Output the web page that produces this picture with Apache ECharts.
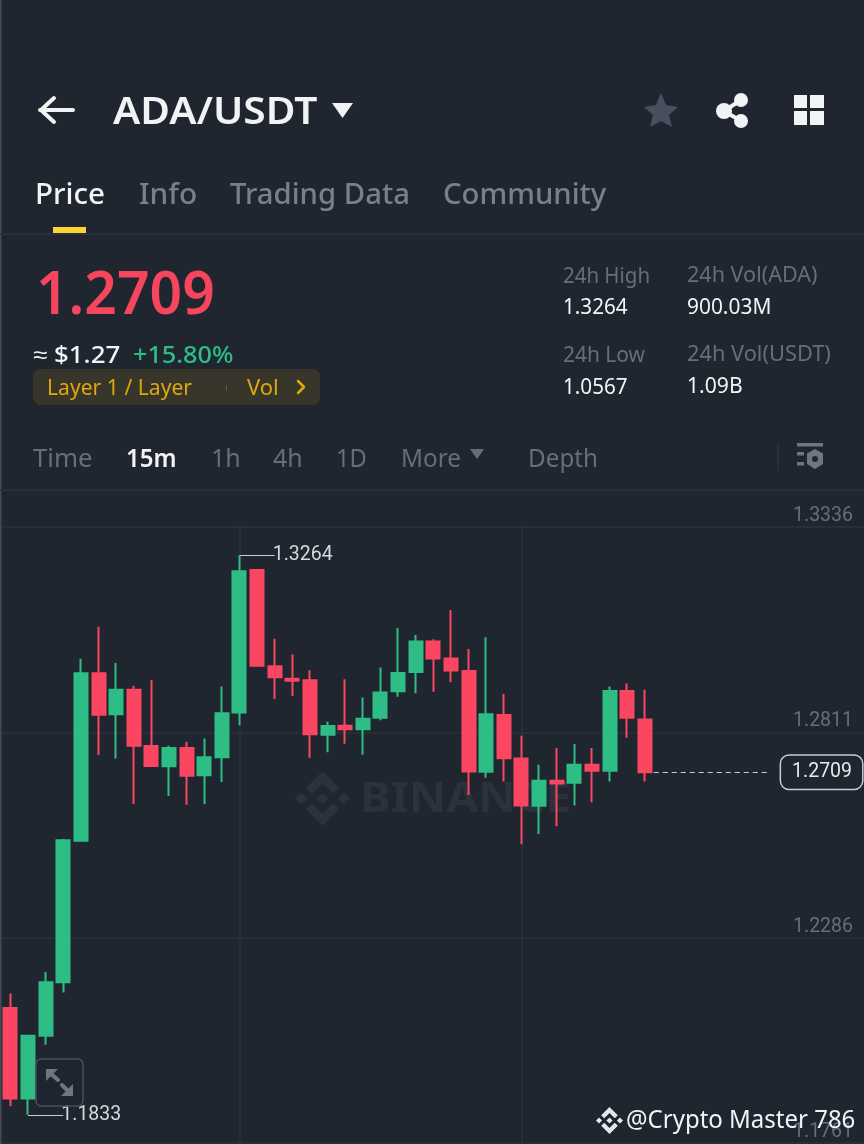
<!DOCTYPE html>
<html><head><meta charset="utf-8">
<style>html,body{margin:0;padding:0;background:#1F2630}#c{width:864px;height:1144px}</style>
<script src="https://cdn.jsdelivr.net/npm/echarts@6/dist/echarts.min.js"></script>
</head><body><div id="c"></div>
<script>
const categories = ['c00','c01','c02','c03','c04','c05','c06','c07','c08','c09','c10','c11','c12','c13','c14','c15','c16','c17','c18','c19','c20','c21','c22','c23','c24','c25','c26','c27','c28','c29','c30','c31','c32','c33','c34','c35','c36','c37','c38','c39','c40','c41','c42','c43','c44','c45','c46','c47','c48','c49'];
const opens  = [1.2024,1.2106,1.1875,1.2035,1.2172,1.2534,1.2962,1.2857,1.2920,1.2776,1.2724,1.2771,1.2701,1.2747,1.2862,1.3226,1.2980,1.2948,1.2944,1.2805,1.2828,1.2819,1.2848,1.2916,1.2965,1.3043,1.3000,1.2968,1.2710,1.2855,1.2744,1.2623,1.2687,1.2682,1.2728,1.2713,1.2917,1.2844];
const closes = [1.2107,1.1875,1.2035,1.2172,1.2535,1.2962,1.2856,1.2920,1.2777,1.2725,1.2771,1.2700,1.2747,1.2860,1.3223,1.2981,1.2952,1.2943,1.2806,1.2827,1.2819,1.2846,1.2913,1.2963,1.3043,1.3000,1.2969,1.2711,1.2857,1.2745,1.2624,1.2687,1.2680,1.2728,1.2713,1.2917,1.2848,1.2709];
const lows   = [1.1990,1.1855,1.1833,1.2012,1.2146,1.2532,1.2753,1.2744,1.2628,1.2724,1.2648,1.2626,1.2628,1.2684,1.2829,1.2978,1.2896,1.2904,1.2746,1.2760,1.2782,1.2754,1.2842,1.2902,1.2911,1.2915,1.2939,1.2651,1.2695,1.2685,1.2525,1.2551,1.2571,1.2624,1.2632,1.2685,1.2797,1.2685];
const highs  = [1.2125,1.2143,1.2037,1.2198,1.2538,1.2999,1.3081,1.2988,1.2930,1.2945,1.2777,1.2787,1.2795,1.2928,1.3264,1.3226,1.3050,1.3010,1.2970,1.2838,1.2947,1.2900,1.2977,1.3078,1.3060,1.3049,1.3124,1.3024,1.3054,1.2909,1.2802,1.2728,1.2771,1.2781,1.2771,1.2928,1.2936,1.2920];
const yTicks = {min:1.1761,max:1.3336,step:0.0525};
const highPoint = 1.3264, lowPoint = 1.1833, lastPrice = 1.2709;
const candles = opens.map((o,i)=>[o,closes[i],lows[i],highs[i]]);

const BG='#1F2630', LINE='#2B323D', GREY='#78808D', DIM='#666E7B', WHITE='#F2F3F5', UP='#2EBD85', DOWN='#FB4661', GOLD='#E0A80F';
const LOGO=[
 [[38.73,53.2],[63.3,28.64],[87.88,53.22],[102.18,38.92],[63.3,0],[24.43,38.88]],
 [[0,63.31],[14.3,49.01],[28.6,63.31],[14.3,77.61]],
 [[38.73,73.42],[63.3,97.99],[87.88,73.42],[102.18,87.71],[63.3,126.61],[24.42,87.73]],
 [[97.99,63.31],[112.29,49.01],[126.61,63.31],[112.31,77.61]],
 [[63.3,48.75],[77.83,63.3],[63.3,77.83],[48.76,63.29]]];
const logo=(x,y,size,fill,z)=>LOGO.map(pts=>({type:'polygon',z,shape:{points:pts.map(p=>[x+p[0]*size/126.61,y+p[1]*size/126.61])},style:{fill}}));
const FONT='"Noto Sans", sans-serif';
const T=(text,x,y,size,fill,weight,z,sx)=>({type:'text',x,y:y+2,z:z||10,scaleX:sx||1,style:{text,x:0,y:0,fill,font:`${weight||400} ${size}px ${FONT}`,textVerticalAlign:'middle',textBaseline:'middle'}});
const R=(x,y,w,h,fill,r,z)=>({type:'rect',z:z||10,shape:{x,y,width:w,height:h,r:r||0},style:{fill}});
const L=(pts,stroke,lw,z)=>({type:'polyline',z:z||10,shape:{points:pts},style:{stroke,fill:'none',lineWidth:lw,lineCap:'round',lineJoin:'round'}});
const C=(cx,cy,r,fill)=>({type:'circle',z:10,shape:{cx,cy,r},style:{fill}});

const chrome=[
 R(0,0,1.5,1144,'#454B56'),
 // header
 L([[40,110],[73,110]],WHITE,4), L([[54,98],[41,110],[54,122]],WHITE,4),
 T('ADA/USDT',113,111,37,WHITE,600,10,1.1),
 {type:'polygon',z:10,shape:{points:[[332,103],[353,103],[342.5,118]]},style:{fill:WHITE,lineJoin:'round'}},
 {type:'polygon',z:10,shape:{points:[[661,93],[666,105],[678,107],[669,115],[672,127],[661,121],[650,127],[653,115],[644,107],[656,105]]},style:{fill:'#47505E'}},
 L([[741,100],[724,111],[741,121]],WHITE,4), C(741,100,7,WHITE), C(724,111,8,WHITE), C(741,121,7,WHITE),
 R(794,95,13,13,WHITE,0), R(810,95,14,13,WHITE,0), R(794,111,13,14,WHITE,0), R(810,111,14,14,WHITE,0),
 // tabs
 T('Price',35,194,29,WHITE,500,10,1.02), T('Info',139,194,29,GREY,500,10,1.03), T('Trading Data',230,194,29,GREY,500,10,1.01), T('Community',443,194,29,GREY,500,10,1.01),
 R(53,227,33,6,'#FCD535'), R(0,233.5,864,1.5,LINE),
 // price block
 T('1.2709',36,295,60,'#F6465D',600,10,0.95),
 T('≈ $1.27',33,354,24,WHITE,500,10,1.08), T('+15.80%',133,354,24,UP,500,10,1.05),
 R(33,369,287,36,'#38352A',8), T('Layer 1 / Layer',47,387,22,GOLD,400,10,0.96), R(226,385,1,6,'#6B5A1E'), T('Vol',247,387,22,GOLD),
 L([[298,381],[304,387],[298,393]],GOLD,2.5),
 T('24h High',563,275,22,DIM,400,10,0.93), T('24h Vol(ADA)',687,274,22,DIM,400,10,0.98), T('1.3264',563,306,22,WHITE,400,10,0.94), T('900.03M',687,306,22,WHITE,400,10,0.95),
 T('24h Low',563,354,22,DIM,400,10,0.95), T('24h Vol(USDT)',687,353,22,DIM,400,10,0.99), T('1.0567',563,386,22,WHITE,400,10,0.94), T('1.09B',687,385,22,WHITE,400,10,0.96),
 // toolbar
 T('Time',33,458,25,DIM,400,10,1.03), T('15m',126,458,25,WHITE,600,10,0.96), T('1h',211,458,25,DIM), T('4h',273,458,25,DIM), T('1D',336,458,25,DIM,400,10,0.95), T('More',401,458,25,DIM,400,10,0.97),
 {type:'polygon',z:10,shape:{points:[[470,449],[484,449],[477,459]]},style:{fill:DIM}},
 T('Depth',528,458,25,DIM,400,10,0.97),
 R(777.5,443,1.5,27,LINE), R(797,443,26,3.5,'#6E7683'), R(797,452,7,3.5,'#6E7683'), R(797,462,7,3.5,'#6E7683'),
 {type:'polygon',z:10,shape:{points:[[815,449],[823,453.5],[823,464],[815,469],[807,464],[807,453.5]]},style:{fill:'#6E7683'}}, C(815,459,3,BG),
 R(0,489.5,864,1.5,LINE),
 // watermark behind the candles
 ...logo(295,771,55,'#2C313C',1),
 {type:'text',z:1,x:360,y:800,scaleX:1.1,style:{text:'BINANCE',x:0,y:0,fill:'#2C313C',font:`700 42px ${FONT}`,textVerticalAlign:'middle',textBaseline:'middle'}},
 // expand button
 {type:'rect',z:10,shape:{x:36,y:1059,width:47,height:47,r:5},style:{fill:'#1F2630',opacity:0.35}},
 {type:'rect',z:10,shape:{x:36,y:1059,width:47,height:47,r:5},style:{fill:'none',stroke:'#4A505C',lineWidth:1.5}},
 {type:'polygon',z:11,shape:{points:[[46,1069],[58,1069],[46,1081]]},style:{fill:'#6E7683'}},
 L([[50,1073],[58,1080]],'#6E7683',4,11),
 {type:'polygon',z:11,shape:{points:[[73,1096],[61,1096],[73,1084]]},style:{fill:'#6E7683'}},
 L([[69,1092],[62,1085]],'#6E7683',4,11),
 // credit
 ...logo(596,1107,27,'#E6E8EB',12),
 T('@Crypto Master 786',626,1119,25,WHITE,400,12,0.96),
];

const markLabel={color:'#D5D8DD',fontSize:19.5,fontFamily:'Roboto'};
const chart=echarts.init(document.getElementById('c'));
chart.setOption({
 animation:false, backgroundColor:BG,
 graphic:chrome,
 grid:{left:-16,width:881,top:527,height:616,containLabel:false,outerBoundsMode:'none'},
 xAxis:{type:'category',data:categories,boundaryGap:true,axisLine:{show:false},axisTick:{show:false},axisLabel:{show:false},splitLine:{show:false}},
 yAxis:{type:'value',position:'right',min:yTicks.min,max:yTicks.max,interval:yTicks.step,scale:true,
  axisLine:{show:false},axisTick:{show:false},
  splitLine:{show:true,lineStyle:{color:LINE,width:1.5}},
  axisLabel:{inside:true,margin:12,showMinLabel:true,showMaxLabel:true,color:'#666E7B',fontSize:19.5,fontFamily:'Roboto',verticalAlign:'bottom',padding:[0,0,1,0],formatter:v=>v.toFixed(4)}},
 series:[
  {type:'line',z:2,data:[],silent:true,symbol:'none',
   markLine:{silent:true,symbol:'none',animation:false,
    data:[
     {xAxis:categories[14],lineStyle:{color:LINE,width:1.5,type:'solid'},label:{show:false}},
     {xAxis:categories[30],lineStyle:{color:LINE,width:1.5,type:'solid'},label:{show:false}},
     [{coord:[categories[14],highPoint],lineStyle:{color:'#C9CDD3',width:1.2,type:'solid'},label:{show:true,position:'end',distance:-2,padding:[2,0,0,0],formatter:'1.3264',...markLabel}},{coord:[categories[16],highPoint]}],
     [{coord:[categories[2],lowPoint],lineStyle:{color:'#C9CDD3',width:1.2,type:'solid'},label:{show:true,position:'end',distance:-2,padding:[2,0,0,0],formatter:'1.1833',...markLabel}},{coord:[categories[4],lowPoint]}],
     [{coord:[categories[37],lastPrice],lineStyle:{color:'#C9CDD3',width:1.2,type:[5,4]},label:{show:true,position:'end',distance:13,formatter:'1.2709',...markLabel,color:'#E6E8EB',backgroundColor:BG,borderColor:'#C9CDD3',borderWidth:1.5,borderRadius:8,padding:[7,10,6,11]}},{coord:[categories[44],lastPrice]}]
    ]}},
  {type:'candlestick',z:5,data:candles,barWidth:13.5,
   itemStyle:{color:UP,color0:DOWN,borderColor:UP,borderColor0:DOWN,borderWidth:2}}
 ]
});
</script></body></html>
